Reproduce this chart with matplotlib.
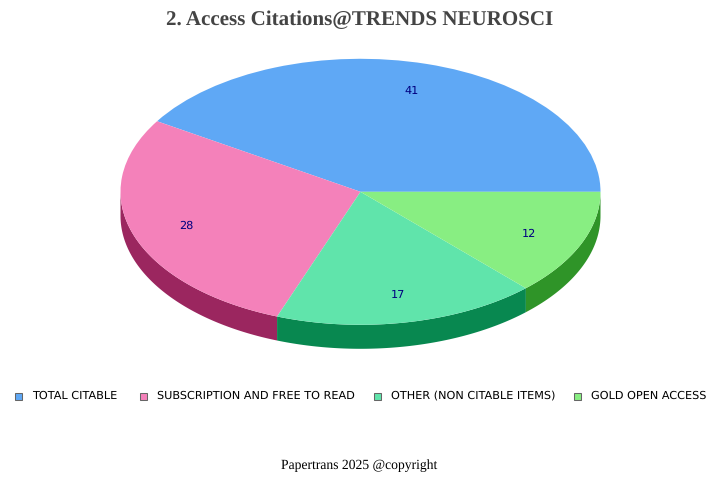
import matplotlib
matplotlib.use("Agg")
import matplotlib.pyplot as plt
from matplotlib.patches import Rectangle
import numpy as np

plt.rcParams["text.hinting"] = "no_hinting"

# ---------------------------------------------------------------------------
# Data
# ---------------------------------------------------------------------------
categories = ["TOTAL CITABLE", "SUBSCRIPTION AND FREE TO READ",
              "OTHER (NON CITABLE ITEMS)", "GOLD OPEN ACCESS"]
values = [41.1, 28.25, 17.75, 12.9]
value_labels = ["41", "28", "17", "12"]

top_colors = ["#5FA8F5", "#F481BA", "#60E4AB", "#88EE82"]
wall_colors = ["#1F68B5", "#9B265F", "#088850", "#2F9428"]
legend_x = [14, 139, 373, 573]
legend_text_x = [32, 157, 391, 591]

# pie geometry in pixels
CX, CY = 360.5, 191.8
RX, RY = 240, 133
DEPTH = 24

fig = plt.figure(figsize=(7.2, 4.8), dpi=100, facecolor="white")

# pie axes: one data unit is the ellipse radius on both axes
ax = fig.add_axes([0, 0, 1, 1])
wedges, _ = ax.pie(values, colors=top_colors, startangle=0, counterclock=True,
                   radius=1, center=(0, 0), normalize=True,
                   wedgeprops={"linewidth": 0})
for w in wedges:
    w.set_zorder(3)
ax.set_aspect("auto")
ax.set_xlim(-CX / RX, (720 - CX) / RX)
ax.set_ylim((CY - 480) / RY, CY / RY)
ax.axis("off")

# side wall, only the front half of the pie shows it
edges = np.cumsum([0] + values) / sum(values) * 360
for start, end, wall in zip(edges[:-1], edges[1:], wall_colors):
    a, b = max(start, 180), min(end, 360)
    if a >= b:
        continue
    t = np.radians(np.linspace(a, b, 80))
    xs = np.r_[np.cos(t), np.cos(t)[::-1]]
    ys = np.r_[np.sin(t), np.sin(t)[::-1] - DEPTH / RY]
    ax.fill(xs, ys, color=wall, linewidth=0, zorder=2)

# value labels sit a bit inside the rim
for start, end, lab in zip(edges[:-1], edges[1:], value_labels):
    mid = np.radians((start + end) / 2)
    ax.text(0.765 * np.cos(mid), 0.79 * np.sin(mid) - 0.004, lab, color="#000080",
            fontsize=8.1, family="DejaVu Sans", ha="center", va="center", zorder=4)

# overlay in pixels for title, legend and footer
px = fig.add_axes([0, 0, 1, 1], facecolor="none")
px.set_xlim(0, 720)
px.set_ylim(480, 0)
px.axis("off")

px.text(359.5, 19.5, "2. Access Citations@TRENDS NEUROSCI", color="#444444",
        fontsize=15.1, fontweight="bold", family="Liberation Serif",
        ha="center", va="center")

for x, tx, name, col in zip(legend_x, legend_text_x, categories, top_colors):
    px.add_patch(Rectangle((x + 0.5, 392.5), 7, 7, facecolor=col,
                           edgecolor="#666666", linewidth=0.75))
    px.text(tx, 395.5, name, color="#000000", fontsize=8.1,
            family="DejaVu Sans", ha="left", va="center")

px.text(359.5, 466, "Papertrans 2025 @copyright", color="#000000",
        fontsize=9.8, family="Liberation Serif", ha="center", va="center")

fig.savefig("out.png", dpi=100)
